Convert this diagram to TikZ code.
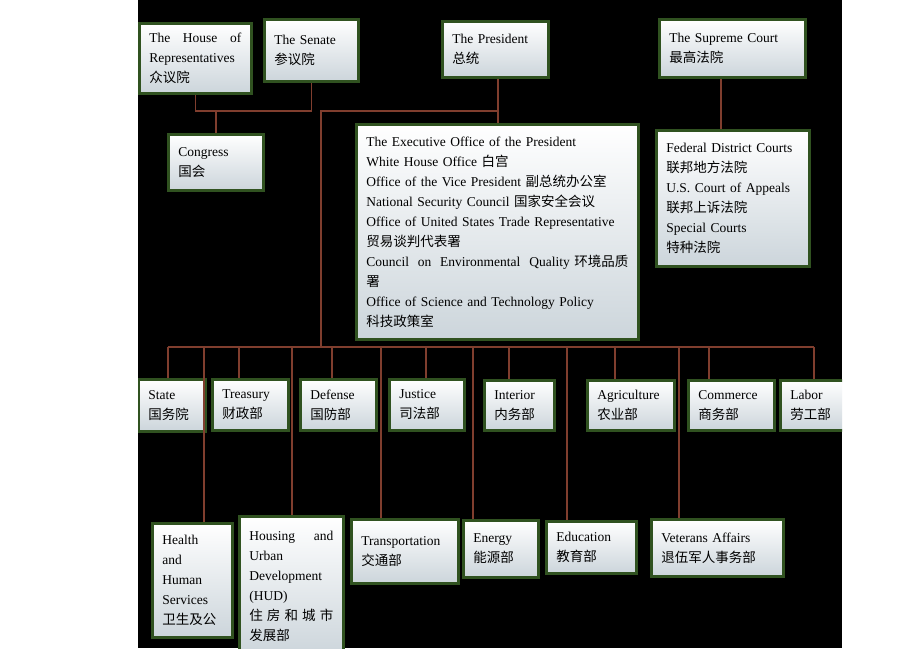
\documentclass[tikz,border=0pt]{standalone}
\usepackage{fontspec}
\setmainfont{Liberation Serif}
\newfontfamily\zhfont{Noto Sans CJK SC}
\newcommand{\zh}[1]{{\zhfont #1}}
\usepackage{xcolor}
\usepackage{tikz}
\definecolor{boxgreen}{RGB}{48,82,32}
\definecolor{boxgray}{RGB}{204,213,219}
\definecolor{linkbrown}{RGB}{128,62,46}
\tikzset{
    unit/.style={draw=boxgreen, line width=2.6pt, top color=white, bottom color=boxgray, anchor=north west, align=left, inner xsep=10pt, inner ysep=4pt, font=\fontsize{13.5}{20}\selectfont},
    link/.style={draw=linkbrown, line width=1.3pt}
}

\begin{document}
\begin{tikzpicture}[x=1pt, y=-1pt]
        \useasboundingbox (0,0) rectangle (917,648);
        \fill[white] (0,0) rectangle (917,648);
        \begin{scope}
        \clip (138,0) rectangle (842,648);
        \fill[black] (138,0) rectangle (842,648);
        \node[unit, minimum width=112, minimum height=70, text width=92] (house) at (138,22) {The\hfill House\hfill of\\Representatives\\\zh{众议院}};
        \node[unit, minimum width=94, minimum height=62, text width=74] (senate) at (263,18) {The Senate\\\zh{参议院}};
        \node[unit, minimum width=106, minimum height=56, text width=86] (president) at (441,20) {The President\\\zh{总统}};
        \node[unit, minimum width=146, minimum height=58, text width=126] (supreme) at (658,18) {The Supreme Court\\\zh{最高法院}};
        \node[unit, minimum width=95, minimum height=56, text width=75] (congress) at (167,133) {Congress\\\zh{国会}};
        \node[unit, minimum width=282, minimum height=215, text width=262] (exec) at (355,123) {The Executive Office of the President\\White House Office \zh{白宫}\\Office of the Vice President \zh{副总统办公室}\\National Security Council \zh{国家安全会议}\\Office of United States Trade Representative\\\zh{贸易谈判代表署}\\Council\hfill on\hfill Environmental\hfill Quality \zh{环境品质}\\\zh{署}\\Office of Science and Technology Policy\\\zh{科技政策室}};
        \node[unit, minimum width=153, minimum height=136, text width=133] (courts) at (655,129) {Federal District Courts\\\zh{联邦地方法院}\\U.S. Court of Appeals\\\zh{联邦上诉法院}\\Special Courts\\\zh{特种法院}};
        \node[unit, minimum width=65, minimum height=52, text width=47] (state) at (137,378) {State\\\zh{国务院}};
        \node[unit, minimum width=76, minimum height=51, text width=56] (treasury) at (211,378) {Treasury\\\zh{财政部}};
        \node[unit, minimum width=76, minimum height=51, text width=56] (defense) at (299,378) {Defense\\\zh{国防部}};
        \node[unit, minimum width=75, minimum height=51, text width=55] (justice) at (388,378) {Justice\\\zh{司法部}};
        \node[unit, minimum width=70, minimum height=50, text width=50] (interior) at (483,379) {Interior\\\zh{内务部}};
        \node[unit, minimum width=87, minimum height=50, text width=67] (agri) at (586,379) {Agriculture\\\zh{农业部}};
        \node[unit, minimum width=86, minimum height=50, text width=66] (commerce) at (687,379) {Commerce\\\zh{商务部}};
        \node[unit, minimum width=66, minimum height=50, text width=46] (labor) at (779,379) {Labor\\\zh{劳工部}};
        \node[unit, minimum width=80, minimum height=114, text width=60] (health) at (151,522) {Health\\and\\Human\\Services\\\zh{卫生及公}};
        \node[unit, minimum width=104, minimum height=140, text width=84] (hud) at (238,515) {Housing\hfill and\\Urban\\Development\\(HUD)\\\zh{住\hfill 房\hfill 和\hfill 城\hfill 市}\\\zh{发展部}};
        \node[unit, minimum width=107, minimum height=64, text width=87] (transport) at (350,518) {Transportation\\\zh{交通部}};
        \node[unit, minimum width=75, minimum height=57, text width=55] (energy) at (462,519) {Energy\\\zh{能源部}};
        \node[unit, minimum width=90, minimum height=52, text width=70] (edu) at (545,520) {Education\\\zh{教育部}};
        \node[unit, minimum width=132, minimum height=57, text width=112] (veterans) at (650,518) {Veterans Affairs\\\zh{退伍军人事务部}};
        \coordinate (cj) at (216,111);
        \coordinate (pj) at (498,111);
        \coordinate (bj) at (321,347);
        \coordinate (sj) at (721,0);
        \draw[link] (house.south) |- (cj) -| (senate.south);
        \draw[link] (cj) -- (cj |- congress.north);
        \draw[link] (pj |- president.south) -- (pj |- exec.north);
        \draw[link] (pj) -| (bj);
        \draw[link] (sj |- supreme.south) -- (sj |- courts.north);
        \foreach \n/\x in {state/168, treasury/239, defense/332, justice/426, interior/509, agri/615, commerce/709, labor/814} {
            \coordinate (d\n) at (\x,347);
            \draw[link] (d\n) -- (d\n |- \n.north);
        }
        \foreach \n/\x in {health/204, hud/292, transport/381, energy/473, edu/567, veterans/679} {
            \coordinate (d\n) at (\x,347);
            \draw[link] (d\n) -- (d\n |- \n.north);
        }
        \draw[link] (dstate) -- (dlabor);
        \end{scope}
    \end{tikzpicture}
\end{document}
